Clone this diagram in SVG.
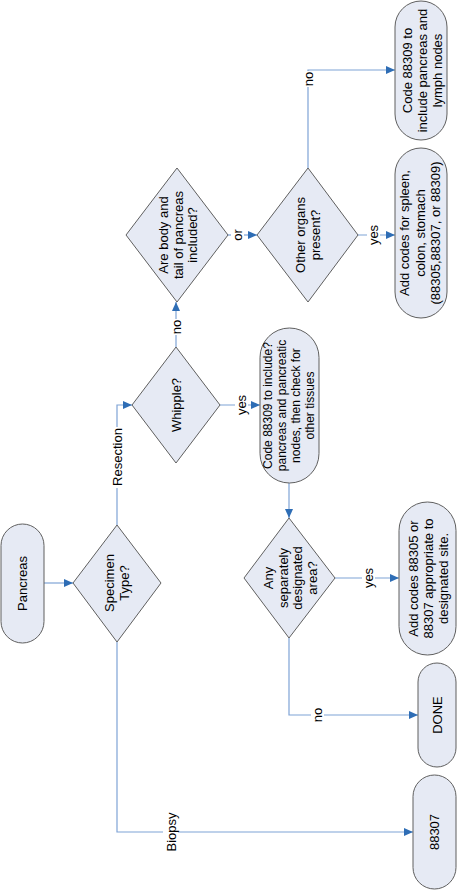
<svg xmlns="http://www.w3.org/2000/svg" width="458" height="890" viewBox="0 0 458 890">
<defs>
<marker id="arr" markerWidth="9" markerHeight="8" refX="9" refY="4" orient="auto" markerUnits="userSpaceOnUse">
<path d="M0,0 L9,4 L0,8 z" fill="#2E6DB5"/>
</marker>
<style>
.n{fill:#E6EAF4;stroke:#5F5F5F;stroke-width:1}
.t{font-family:"Liberation Sans",Arial,sans-serif;font-size:13px;fill:#000;text-anchor:middle}
.s{font-size:12px}
.c{fill:none;stroke:#7FA3D6;stroke-width:1.2}
.a{marker-end:url(#arr)}
.bg{fill:#fff}
</style>
</defs>
<rect width="458" height="890" fill="#fff"/>
<g id="connectors">
<path class="c a" d="M44,583 H73"/>
<path class="c a" d="M117,525 V405 H132"/>
<path class="c a" d="M117,642 V832 H413"/>
<path class="c a" d="M220,405 H260"/>
<path class="c a" d="M176,347 V302"/>
<path class="c a" d="M228,235 H257"/>
<path class="c a" d="M358,235 H395"/>
<path class="c a" d="M308,168 V70 H395"/>
<path class="c a" d="M289,483 V518"/>
<path class="c a" d="M335,578 H399"/>
<path class="c a" d="M289,638 V715 H418"/>
<rect class="bg" x="110" y="427" width="14" height="61"/>
<text class="t" transform="translate(117,457) rotate(-90)"><tspan x="0" y="4.5">Resection</tspan></text>
<rect class="bg" x="235" y="395" width="13" height="20"/>
<text class="t" transform="translate(241.5,405) rotate(-90)"><tspan x="0" y="4.5">yes</tspan></text>
<rect class="bg" x="170" y="319" width="13" height="16"/>
<text class="t" transform="translate(176,327) rotate(-90)"><tspan x="0" y="4.5">no</tspan></text>
<rect class="bg" x="231" y="228" width="13" height="14"/>
<text class="t" transform="translate(237.5,235) rotate(-90)"><tspan x="0" y="4.5">or</tspan></text>
<rect class="bg" x="367" y="225" width="13" height="20"/>
<text class="t" transform="translate(373.5,235) rotate(-90)"><tspan x="0" y="4.5">yes</tspan></text>
<rect class="bg" x="302" y="71" width="13" height="16"/>
<text class="t" transform="translate(308,79) rotate(-90)"><tspan x="0" y="4.5">no</tspan></text>
<rect class="bg" x="362" y="568" width="13" height="20"/>
<text class="t" transform="translate(368.5,578) rotate(-90)"><tspan x="0" y="4.5">yes</tspan></text>
<rect class="bg" x="311" y="707" width="13" height="16"/>
<text class="t" transform="translate(317,715) rotate(-90)"><tspan x="0" y="4.5">no</tspan></text>
<rect class="bg" x="163" y="812" width="15" height="41"/>
<text class="t" transform="translate(171,832) rotate(-90)"><tspan x="0" y="4.5">Biopsy</tspan></text>
</g>
<g id="pancreas">
<rect class="n" x="1" y="524" width="43" height="119" rx="21.5"/>
<text class="t" transform="translate(22.5,583.5) rotate(-90)"><tspan x="0" y="4.5">Pancreas</tspan></text>
</g>
<g id="specimen-type">
<polygon class="n" points="73,583 117,525 161,583 117,642"/>
<text class="t" transform="translate(117,583) rotate(-90)"><tspan x="0" y="-3">Specimen</tspan><tspan x="0" y="12">Type?</tspan></text>
</g>
<g id="whipple">
<polygon class="n" points="132,405 176,347 220,405 176,463"/>
<text class="t" transform="translate(176,405) rotate(-90)"><tspan x="0" y="4.5">Whipple?</tspan></text>
</g>
<g id="code-88309-whipple">
<rect class="n" x="260" y="328" width="59" height="155" rx="29.5"/>
<text class="t s" transform="translate(289.5,405.5) rotate(-90)"><tspan x="0" y="-17.5">Code 88309 to include?</tspan><tspan x="0" y="-3.5">pancreas and pancreatic</tspan><tspan x="0" y="10.5">nodes, then check for</tspan><tspan x="0" y="24.5">other tissues</tspan></text>
</g>
<g id="body-tail">
<polygon class="n" points="126,235 177,168 228,235 177,302"/>
<text class="t" transform="translate(178,235) rotate(-90)"><tspan x="0" y="-10">Are body and</tspan><tspan x="0" y="4.5">tail of pancreas</tspan><tspan x="0" y="19">included?</tspan></text>
</g>
<g id="other-organs">
<polygon class="n" points="257,235 308,168 358,235 308,302"/>
<text class="t" transform="translate(308,235) rotate(-90)"><tspan x="0" y="-3">Other organs</tspan><tspan x="0" y="12">present?</tspan></text>
</g>
<g id="add-codes-spleen">
<rect class="n" x="395" y="148" width="52" height="170" rx="26"/>
<text class="t" transform="translate(420,233) rotate(-90)"><tspan x="0" y="-11">Add codes for spleen,</tspan><tspan x="0" y="4.5">colon, stomach</tspan><tspan x="0" y="20">(88305,88307, or 88309)</tspan></text>
</g>
<g id="code-88309-lymph">
<rect class="n" x="395" y="1" width="52" height="139" rx="26"/>
<text class="t" transform="translate(422,70.5) rotate(-90)"><tspan x="0" y="-10.5">Code 88309 to</tspan><tspan x="0" y="4.5">include pancreas and</tspan><tspan x="0" y="19.5">lymph nodes</tspan></text>
</g>
<g id="separately-designated">
<polygon class="n" points="244,578 289,518 335,578 289,638"/>
<text class="t" transform="translate(290,578) rotate(-90)"><tspan x="0" y="-17.5">Any</tspan><tspan x="0" y="-2.5">separately</tspan><tspan x="0" y="12">designated</tspan><tspan x="0" y="26.5">area?</tspan></text>
</g>
<g id="add-codes-site">
<rect class="n" x="399" y="502" width="57" height="153" rx="28.5"/>
<text class="t" transform="translate(428,578.5) rotate(-90)"><tspan x="0" y="-10.5">Add codes 88305 or</tspan><tspan x="0" y="4.5">88307 appropriate to</tspan><tspan x="0" y="19.5">designated site.</tspan></text>
</g>
<g id="done">
<rect class="n" x="418" y="663" width="38" height="104" rx="19"/>
<text class="t" transform="translate(437,715) rotate(-90)"><tspan x="0" y="4.5">DONE</tspan></text>
</g>
<g id="biopsy-88307">
<rect class="n" x="413" y="775" width="43" height="114" rx="21.5"/>
<text class="t" transform="translate(434.5,832) rotate(-90)"><tspan x="0" y="4.5">88307</tspan></text>
</g>
</svg>
